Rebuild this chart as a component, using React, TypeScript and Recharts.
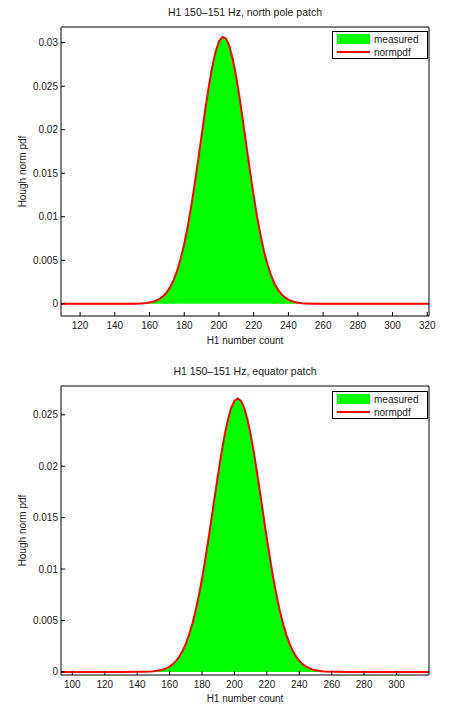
import React from 'react';
import { ComposedChart, Area, Line, XAxis, YAxis, Legend } from 'recharts';

// ---- North pole patch ----
const northCounts = [
  109, 120, 130, 140, 148,
  150, 152, 154, 156, 158, 160, 162, 164, 166, 168, 170, 172, 174, 176, 178,
  180, 182, 184, 186, 188, 190, 192, 194, 196, 198, 200, 202, 204, 206, 208,
  210, 212, 214, 216, 218, 220, 222, 224, 226, 228, 230, 232, 234, 236, 238,
  240, 242, 244, 246, 248, 250, 252, 254, 256,
  260, 270, 280, 290, 300, 310, 321,
];
const northMeasured = [
  0, 0, 0, 0, 0,
  0.00001, 0.000018, 0.000026, 0.000055, 0.000083, 0.000152, 0.000231, 0.000395, 0.000581, 0.000924,
  0.001331, 0.001982, 0.002751, 0.003878, 0.00516,
  0.006905, 0.008811, 0.011202, 0.013664, 0.01653, 0.019271, 0.022214, 0.024715, 0.02715, 0.02884,
  0.030195, 0.03061, 0.030552, 0.02952, 0.02813,
  0.02591, 0.02357, 0.02069, 0.01796, 0.01501, 0.01246, 0.00991, 0.00787, 0.00595, 0.00452,
  0.00324, 0.00237, 0.001605, 0.001128, 0.000722,
  0.00049, 0.000296, 0.000193, 0.000109, 0.00007, 0.000036, 0.000024, 0.00001, 0.000007,
  0, 0, 0, 0, 0, 0, 0,
];
const northNormpdf = [
  0, 0, 0, 0, 0.000005,
  0.000009, 0.000016, 0.000029, 0.000051, 0.000088, 0.000147, 0.00024, 0.000382, 0.000596, 0.000907,
  0.001349, 0.001957, 0.002776, 0.003843, 0.005196,
  0.006862, 0.008854, 0.011149, 0.013715, 0.016477, 0.019328, 0.022149, 0.024782, 0.027083, 0.028906,
  0.030128, 0.030666, 0.030485, 0.029597, 0.028062,
  0.025985, 0.023499, 0.020752, 0.017898, 0.015075, 0.012402, 0.009965, 0.007817, 0.005991, 0.004484,
  0.003275, 0.002338, 0.00163, 0.001109, 0.000737,
  0.000479, 0.000304, 0.000188, 0.000114, 0.000067, 0.000039, 0.000022, 0.000012, 0.000006,
  0.000002, 0, 0, 0, 0, 0, 0,
];
const northXTicks = [120, 140, 160, 180, 200, 220, 240, 260, 280, 300, 320];
const northYTicks = [0, 0.005, 0.01, 0.015, 0.02, 0.025, 0.03];

// ---- Equator patch ----
const equatorCounts = [
  93, 100, 110, 120, 130, 140, 144, 148,
  150, 152, 154, 156, 158, 160, 162, 164, 166, 168, 170, 172, 174, 176, 178,
  180, 182, 184, 186, 188, 190, 192, 194, 196, 198, 200, 202, 204, 206, 208,
  210, 212, 214, 216, 218, 220, 222, 224, 226, 228, 230, 232, 234, 236, 238,
  240, 242, 244, 246, 248, 250, 252, 254, 256,
  260, 264, 270, 280, 290, 300, 310, 320,
];
const equatorMeasured = [
  0, 0, 0, 0, 0, 0, 0, 0.00004,
  0.00006, 0.00011, 0.00015, 0.000252, 0.000347, 0.000541, 0.000742, 0.001098, 0.00147, 0.002065,
  0.002705, 0.00363, 0.004621, 0.005962, 0.00735,
  0.009118, 0.01088, 0.013002, 0.015001, 0.017262, 0.01925, 0.021351, 0.023005, 0.02461, 0.0256,
  0.02629, 0.02648, 0.02641, 0.02559, 0.02462,
  0.02301, 0.02135, 0.01925, 0.01726, 0.015, 0.01299, 0.01088, 0.00912, 0.00734, 0.00597,
  0.00461, 0.00364, 0.0027, 0.00207, 0.00147,
  0.00109, 0.000745, 0.00054, 0.00035, 0.000248, 0.000152, 0.000108, 0.00006, 0.000044,
  0, 0, 0, 0, 0, 0, 0, 0,
];
const equatorNormpdf = [
  0, 0, 0, 0, 0, 0.000005, 0.000015, 0.000041,
  0.000065, 0.000103, 0.000159, 0.000241, 0.00036, 0.000528, 0.00076, 0.001075, 0.001493, 0.002038,
  0.002732, 0.003599, 0.004659, 0.005921, 0.007394,
  0.009072, 0.010934, 0.012947, 0.015059, 0.017205, 0.019311, 0.021296, 0.02307, 0.024551, 0.025668,
  0.026361, 0.026596, 0.026361, 0.025668, 0.024551,
  0.02307, 0.021296, 0.019311, 0.017205, 0.015059, 0.012947, 0.010934, 0.009072, 0.007394, 0.005921,
  0.004659, 0.003599, 0.002732, 0.002038, 0.001493,
  0.001075, 0.00076, 0.000528, 0.00036, 0.000241, 0.000159, 0.000103, 0.000065, 0.000041,
  0.000015, 0.000005, 0, 0, 0, 0, 0, 0,
];
const equatorXTicks = [100, 120, 140, 160, 180, 200, 220, 240, 260, 280, 300];
const equatorYTicks = [0, 0.005, 0.01, 0.015, 0.02, 0.025];

const FONT = '"Liberation Sans", Arial, Helvetica, sans-serif';
const TEXT = '#222';
const GREEN = '#00ff00';
const RED = '#ff0000';

const LegendBox = () => (
  <div style={{ width: 96, height: 28, boxSizing: 'border-box', border: '1px solid #000', background: '#fff' }}>
    <svg width={94} height={26} style={{ display: 'block' }}>
      <rect x={4} y={2} width={33} height={10} fill={GREEN} />
      <text x={41} y={11} fontSize={10} fontFamily={FONT} fill={TEXT}>measured</text>
      <line x1={4} x2={37} y1={20} y2={20} stroke={RED} strokeWidth={2} />
      <text x={41} y={23.5} fontSize={10} fontFamily={FONT} fill={TEXT}>normpdf</text>
    </svg>
  </div>
);

type PanelProps = {
  title: string;
  counts: number[];
  measured: number[];
  normpdf: number[];
  xDomain: [number, number];
  xTicks: number[];
  yDomain: [number, number];
  yTicks: number[];
  marginTop: number;
  xAxisHeight: number;
  legendTop: number;
};

const Panel = ({ title, counts, measured, normpdf, xDomain, xTicks, yDomain, yTicks, marginTop, xAxisHeight, legendTop }: PanelProps) => {
  const rows = counts.map((c, i) => ({ count: c, measured: measured[i], normpdf: normpdf[i] }));
  const tickStyle = { fontSize: 10, fontFamily: FONT, fill: TEXT };
  return (
    <ComposedChart
      width={474}
      height={358}
      data={rows}
      margin={{ top: marginTop - 1, right: 44, bottom: 0, left: 0 }}
    >
      <XAxis
        dataKey="count"
        type="number"
        domain={xDomain}
        allowDataOverflow
        ticks={xTicks}
        interval={0}
        height={xAxisHeight}
        tickSize={-4}
        tickMargin={10}
        tick={tickStyle}
        stroke="#000"
        tickLine={{ stroke: '#000' }}
        label={{ value: 'H1 number count', position: 'insideBottom', offset: 14, fontSize: 10, fontFamily: FONT, fill: TEXT }}
      />
      <XAxis
        xAxisId="top"
        dataKey="count"
        type="number"
        orientation="top"
        domain={xDomain}
        allowDataOverflow
        ticks={xTicks}
        interval={0}
        height={1}
        tickSize={-4}
        tick={false}
        stroke="#000"
        tickLine={{ stroke: '#000' }}
        label={({ viewBox }: any) => {
          const vb = viewBox || { x: 61, y: 26, width: 368, height: 1 };
          return (
            <text
              x={vb.x + vb.width / 2}
              y={vb.y - 10}
              textAnchor="middle"
              fontSize={10.5}
              fontFamily={FONT}
              fill={TEXT}
            >
              {title}
            </text>
          );
        }}
      />
      <YAxis
        type="number"
        domain={yDomain}
        allowDataOverflow
        ticks={yTicks}
        interval={0}
        width={61}
        tickSize={-4}
        tickMargin={7}
        tick={tickStyle}
        tickFormatter={(v: number) => String(v)}
        stroke="#000"
        tickLine={{ stroke: '#000' }}
        label={({ viewBox }: any) => {
          const vb = viewBox || { x: 0, y: 0, width: 61, height: 289 };
          const cx = vb.x + 22;
          const cy = vb.y + vb.height / 2;
          return (
            <text
              x={cx}
              y={cy}
              transform={`rotate(-90 ${cx} ${cy})`}
              textAnchor="middle"
              dominantBaseline="central"
              fontSize={10}
              fontFamily={FONT}
              fill={TEXT}
            >
              Hough norm pdf
            </text>
          );
        }}
      />
      <YAxis
        yAxisId="right"
        type="number"
        orientation="right"
        domain={yDomain}
        allowDataOverflow
        ticks={yTicks}
        interval={0}
        width={1}
        tickSize={-4}
        tick={false}
        stroke="#000"
        tickLine={{ stroke: '#000' }}
      />
      <Area
        dataKey="measured"
        type="linear"
        fill={GREEN}
        fillOpacity={1}
        stroke="none"
        dot={false}
        activeDot={false}
        isAnimationActive={false}
      />
      <Line
        dataKey="normpdf"
        type="linear"
        stroke={RED}
        strokeWidth={2}
        dot={false}
        activeDot={false}
        isAnimationActive={false}
      />
      <Legend
        layout="vertical"
        verticalAlign="middle"
        align="center"
        content={() => <LegendBox />}
        wrapperStyle={{ position: 'absolute', left: 332, top: legendTop, right: 'auto', bottom: 'auto', width: 96, height: 28 }}
      />
    </ComposedChart>
  );
};

export default function App() {
  return (
    <div style={{ position: 'absolute', left: 0, top: 0, width: 474, height: 716, background: '#fff', fontFamily: FONT }}>
      <div style={{ position: 'absolute', left: 0, top: 0 }}>
        <Panel
          title="H1 150–151 Hz, north pole patch"
          counts={northCounts}
          measured={northMeasured}
          normpdf={northNormpdf}
          xDomain={[109, 321]}
          xTicks={northXTicks}
          yDomain={[-0.0014, 0.0318]}
          yTicks={northYTicks}
          marginTop={27}
          xAxisHeight={42}
          legendTop={31}
        />
      </div>
      <div style={{ position: 'absolute', left: 0, top: 358 }}>
        <Panel
          title="H1 150–151 Hz, equator patch"
          counts={equatorCounts}
          measured={equatorMeasured}
          normpdf={equatorNormpdf}
          xDomain={[93, 320]}
          xTicks={equatorXTicks}
          yDomain={[-0.0003, 0.0278]}
          yTicks={equatorYTicks}
          marginTop={28}
          xAxisHeight={41}
          legendTop={33}
        />
      </div>
    </div>
  );
}
